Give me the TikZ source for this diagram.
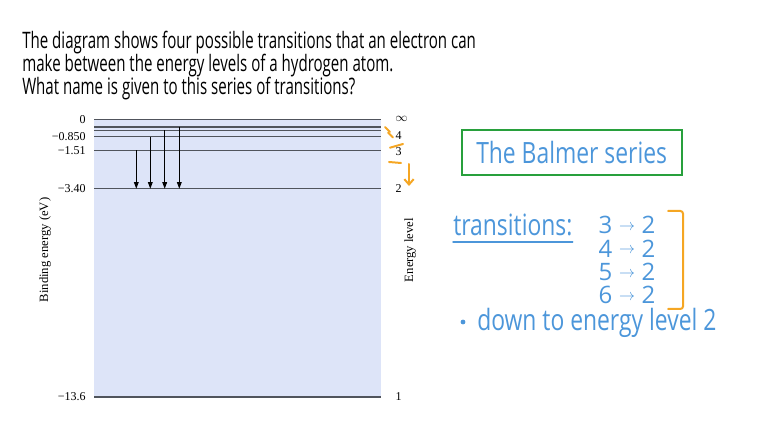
\documentclass[tikz,border=0pt]{standalone}
\usepackage{fontspec}
\setmainfont{Liberation Serif}
\newfontfamily\hand{Open Sans}[FakeStretch=0.665]
\newfontfamily\handb{Open Sans}[FakeStretch=0.78]
\newfontfamily\handd{Open Sans}
\usetikzlibrary{positioning, arrows.meta}
\definecolor{levelfill}{RGB}{221,228,248}
\definecolor{levelline}{RGB}{80,84,92}
\definecolor{penblue}{RGB}{76,150,218}
\definecolor{pengreen}{RGB}{40,160,60}
\definecolor{penorange}{RGB}{245,166,35}
\newcommand{\smallto}{\hspace{5pt}\raisebox{2.5pt}{\fontsize{13}{13}\selectfont$\rightarrow$}\hspace{5pt}}

\begin{document}
\begin{tikzpicture}[x=0.75pt,y=-0.75pt,
    level/.style={draw=levelline,line width=0.9pt},
    jump/.style={-{Triangle[length=5pt,width=3.6pt]},line width=0.6pt},
    energy/.style={inner sep=1pt,font=\fontsize{9}{9}\selectfont},
    nlabel/.style={inner sep=1pt,font=\fontsize{9}{9}\selectfont},
    axis/.style={rotate=90,inner sep=0pt,font=\fontsize{9.5}{9.5}\selectfont},
    question/.style={anchor=base west,inner sep=0pt,font=\hand\fontsize{17}{17}\selectfont},
    pen/.style={text=penblue,inner sep=0pt,font=\handb\fontsize{22}{22}\selectfont},
    pendigits/.style={text=penblue,inner sep=0pt,font=\handd\fontsize{18}{18}\selectfont},
    orangepen/.style={draw=penorange,line width=1.5pt,line cap=round}]

  \useasboundingbox (0,0) rectangle (760,427);

  % question
  \node[question] (q_1) at (22,48.3) {The diagram shows four possible transitions that an electron can};
  \node[question] (q_2) at (22,71.3) {make between the energy levels of a hydrogen atom.};
  \node[question] (q_3) at (22,94.3) {What name is given to this series of transitions?};

  % energy levels
  \coordinate (inf_w) at (94,119.3);  \coordinate (inf_e) at (381,119.3);
  \coordinate (n6_w)  at (94,127.0);  \coordinate (n6_e)  at (381,127.0);
  \coordinate (n5_w)  at (94,130.4);  \coordinate (n5_e)  at (381,130.4);
  \coordinate (n4_w)  at (94,136.7);  \coordinate (n4_e)  at (381,136.7);
  \coordinate (n3_w)  at (94,150.5);  \coordinate (n3_e)  at (381,150.5);
  \coordinate (n2_w)  at (94,188.7);  \coordinate (n2_e)  at (381,188.7);
  \coordinate (n1_w)  at (94,397.0);  \coordinate (n1_e)  at (381,397.0);

  \fill[levelfill] (inf_w) rectangle (n1_e);
  \draw[level] (inf_w) -- (inf_e);
  \draw[level] (n6_w) -- (n6_e);
  \draw[level] (n5_w) -- (n5_e);
  \draw[level] (n4_w) -- (n4_e);
  \draw[level] (n3_w) -- (n3_e);
  \draw[level] (n2_w) -- (n2_e);
  \draw[level] (n1_w) -- (n1_e);

  % transitions
  \coordinate (a_3) at (136.3,150.5);
  \coordinate (a_4) at (150.3,136.7);
  \coordinate (a_5) at (164.7,130.4);
  \coordinate (a_6) at (179.3,127.0);
  \draw[jump] (a_3) -- (a_3 |- n2_w);
  \draw[jump] (a_4) -- (a_4 |- n2_w);
  \draw[jump] (a_5) -- (a_5 |- n2_w);
  \draw[jump] (a_6) -- (a_6 |- n2_w);

  % binding energies
  \node[energy] (e_inf) [left=5pt of inf_w] {0};
  \node[energy] (e_4)   [left=5pt of n4_w]  {−0.850};
  \node[energy] (e_3)   [left=5pt of n3_w]  {−1.51};
  \node[energy] (e_2)   [left=5pt of n2_w]  {−3.40};
  \node[energy] (e_1)   [left=5pt of n1_w]  {−13.6};

  % level numbers
  \node[nlabel] (l_inf) [right=9.5pt of inf_e, on grid] {$\infty$};
  \node[nlabel] (l_4)   [right=9.8pt of n4_e, on grid, yshift=0.5pt] {4};
  \node[nlabel] (l_3)   [right=9.8pt of n3_e, on grid, yshift=-1pt] {3};
  \node[nlabel] (l_2)   [right=9.8pt of n2_e, on grid] {2};
  \node[nlabel] (l_1)   [right=9.8pt of n1_e, on grid] {1};

  \node[axis] (y_left)  at (45,250)  {Binding energy (eV)};
  \node[axis] (y_right) at (410,250) {Energy level};

  % orange marks
  \coordinate (m_1) at (385,127);   \coordinate (m_2) at (390,132);
  \coordinate (m_3) at (388,132.5); \coordinate (m_4) at (393,137.5);
  \coordinate (m_5) at (390,147.7); \coordinate (m_6) at (403,144);
  \coordinate (m_7) at (389,162);   \coordinate (m_8) at (401,163);
  \coordinate (down_s) at (409,164); \coordinate (down_e) at (409,186);
  \draw[orangepen] (m_1) -- (m_2);
  \draw[orangepen] (m_3) -- (m_4);
  \draw[orangepen] (m_5) -- (m_6);
  \draw[orangepen] (m_7) -- (m_8);
  \draw[orangepen,-{Straight Barb[length=4pt,width=7pt]}] (down_s) -- (down_e);

  % answer
  \node[draw=pengreen,line width=1.5pt,minimum width=165pt,minimum height=33.75pt,pen]
    (answer) at (571.7,152.5) {The Balmer series};

  \node[pen,anchor=base west] (trans) at (453,236) {transitions:};
  \draw[draw=penblue,line width=1.1pt,line cap=round]
    ([yshift=-4.5pt]trans.base west) -- ([yshift=-4.5pt]trans.base east);

  \node[pendigits] (t_3) at (627,225) {3\smallto 2};
  \node[pendigits] (t_4) at ([yshift=-17.6pt]t_3) {4\smallto 2};
  \node[pendigits] (t_5) at ([yshift=-17.6pt]t_4) {5\smallto 2};
  \node[pendigits] (t_6) at ([yshift=-17.6pt]t_5) {6\smallto 2};

  \coordinate (br_top) at (668,211);
  \coordinate (br_bot) at (668,309);
  \draw[orangepen,rounded corners=2pt] (br_top) -- ++(15,0) -- ++(0,98) -- (br_bot);

  \fill[penblue] (463,322) circle[radius=1.8pt];
  \node[pen,anchor=base west] (level_note) at (477,331) {down to energy level 2};
\end{tikzpicture}
\end{document}
